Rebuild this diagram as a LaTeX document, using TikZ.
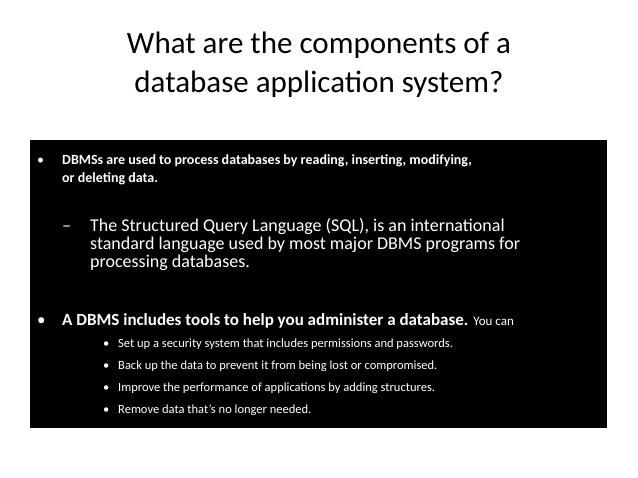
\documentclass[tikz,border=0pt]{standalone}
\usepackage{fontspec}
\setmainfont{Carlito}
\begin{document}
\begin{tikzpicture}[x=1pt,y=-1pt,
  t/.style={anchor=base west,inner sep=0,white,align=left},
  ttl/.style={anchor=base,inner sep=0,font=\fontsize{31}{38}\selectfont}]
\useasboundingbox (0,0) rectangle (638,478);
\fill[black] (30,140) rectangle (607,428);
\node[ttl] (t1) at (319,54) {What are the components of a};
\node[ttl] (t2) at (319,93) {database application system?};
\node[t,font=\fontsize{14}{17}\selectfont] (b1) at (37,165) {•};
\node[t,font=\bfseries\fontsize{14}{17}\selectfont] (l1) at (62,165) {DBMSs are used to process databases by reading, inserting, modifying,};
\node[t,font=\bfseries\fontsize{14}{17}\selectfont] (l2) at (62,183) {or deleting data.};
\node[t,font=\fontsize{18}{18}\selectfont] (d1) at (62,232) {–};
\node[t,font=\fontsize{18}{18}\selectfont] (s1) at (90,232) {The Structured Query Language (SQL), is an international};
\node[t,font=\fontsize{18}{18}\selectfont] (s2) at (90,250) {standard language used by most major DBMS programs for};
\node[t,font=\fontsize{18}{18}\selectfont] (s3) at (90,268) {processing databases.};
\node[t,font=\fontsize{17}{17}\selectfont] (b2) at (37,326) {•};
\node[t,font=\fontsize{17}{17}\selectfont] (l3) at (62,326) {\textbf{A DBMS includes tools to help you administer a database.} {\fontsize{13}{13}\selectfont You can}};
\foreach \y/\s [count=\i] in {348/Set up a security system that includes permissions and passwords.,
  370/Back up the data to prevent it from being lost or compromised.,
  392/Improve the performance of applications by adding structures.,
  414/Remove data that’s no longer needed.}{
  \node[t,font=\fontsize{12.5}{13}\selectfont] (sb\i) at (103,\y) {•};
  \node[t,font=\fontsize{12.5}{13}\selectfont] (st\i) at (118,\y) {\s};
}
\end{tikzpicture}
\end{document}
